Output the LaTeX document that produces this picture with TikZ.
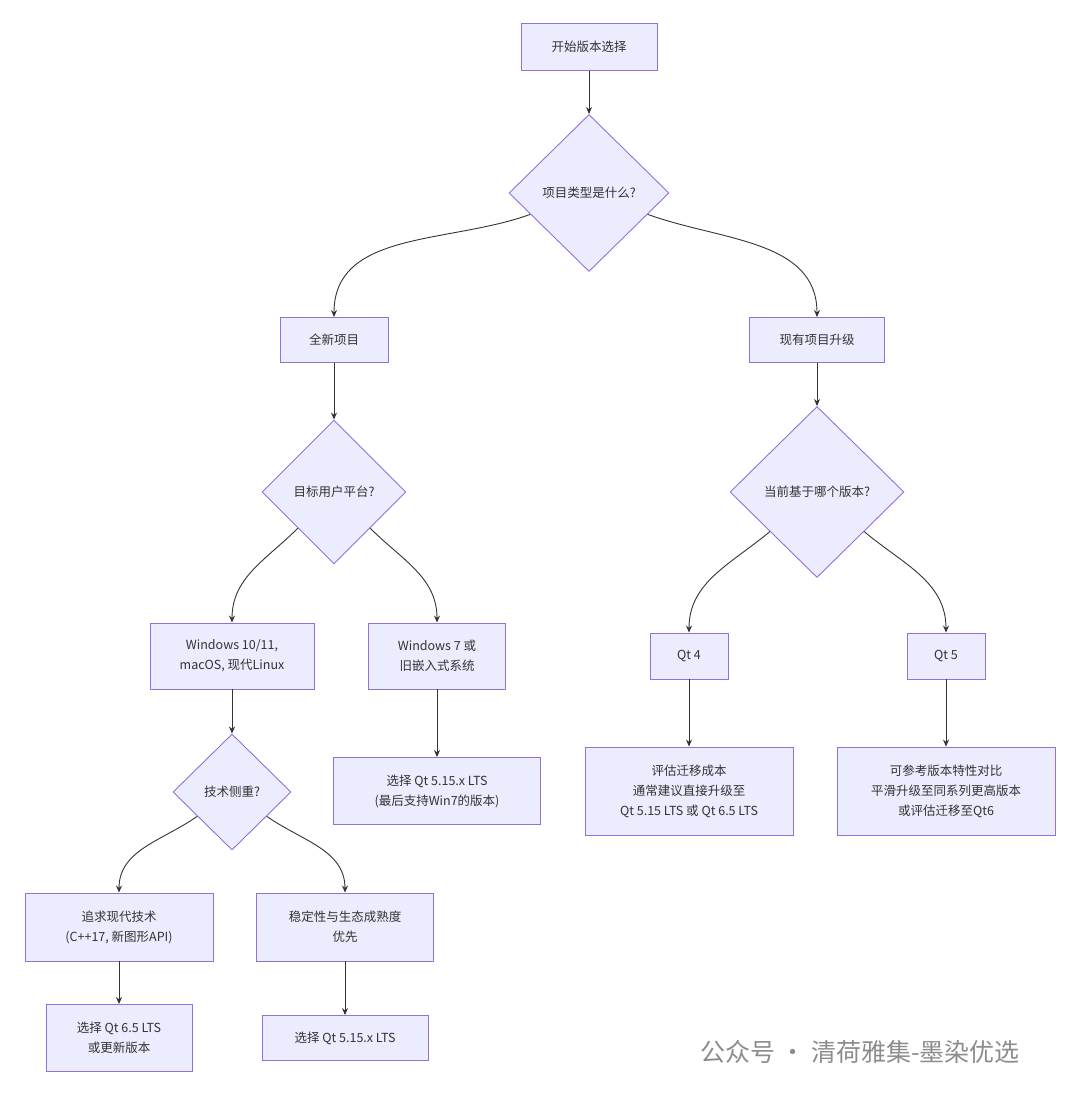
\documentclass[tikz,border=0pt]{standalone}
\usepackage{fontspec}
\setmainfont{Noto Sans CJK SC}
\usetikzlibrary{shapes.geometric,arrows.meta}
\definecolor{boxfill}{HTML}{ECECFF}
\definecolor{boxline}{HTML}{9370DB}
\definecolor{arrline}{HTML}{333333}
\tikzset{
  box/.style={draw=boxline, fill=boxfill, line width=0.9pt, align=center, inner sep=0pt},
  choice/.style={draw=boxline, fill=boxfill, line width=0.9pt, diamond, align=center, inner sep=0pt},
  arr/.style={draw=arrline, line width=0.9pt, -{Stealth[length=7pt,width=6pt]}}
}
\begin{document}
\begin{tikzpicture}[x=1pt, y=-1pt, font=\fontsize{12.5}{20}\selectfont, text=arrline]
\useasboundingbox (0,0) rectangle (1080,1097);

%Top
\node[box, minimum width=136, minimum height=47] (start) at (589,47) {开始版本选择};
\node[choice, minimum width=160, minimum height=157] (kind) at (589,193) {项目类型是什么?};

%New project branch
\node[box, minimum width=108, minimum height=45] (new) at (334,340) {全新项目};
\node[choice, minimum width=144, minimum height=144] (plat) at (334,492) {目标用户平台?};
\node[box, minimum width=164, minimum height=66] (modernos) at (232,656) {Windows 10/11,\\macOS, 现代Linux};
\node[box, minimum width=137, minimum height=66] (oldos) at (437,656) {Windows 7 或\\旧嵌入式系统};
\node[choice, minimum width=118, minimum height=116] (focus) at (232,792) {技术侧重?};
\node[box, minimum width=207, minimum height=67] (pickwin7) at (437,791) {选择 Qt 5.15.x LTS\\(最后支持Win7的版本)};
\node[box, minimum width=188, minimum height=68] (modern) at (119,927) {追求现代技术\\(C++17, 新图形API)};
\node[box, minimum width=177, minimum height=68] (stable) at (345,927) {稳定性与生态成熟度\\优先};
\node[box, minimum width=146, minimum height=67] (pick65) at (119,1038) {选择 Qt 6.5 LTS\\或更新版本};
\node[box, minimum width=166, minimum height=45] (pick515) at (345,1038) {选择 Qt 5.15.x LTS};

%Upgrade branch
\node[box, minimum width=135, minimum height=45] (upg) at (817,340) {现有项目升级};
\node[choice, minimum width=174, minimum height=171] (base) at (817,492) {当前基于哪个版本?};
\node[box, minimum width=78, minimum height=46] (qtfour) at (689,656) {Qt 4};
\node[box, minimum width=78, minimum height=46] (qtfive) at (946,656) {Qt 5};
\node[box, minimum width=208, minimum height=88] (evalcost) at (689,791) {评估迁移成本\\通常建议直接升级至\\Qt 5.15 LTS 或 Qt 6.5 LTS};
\node[box, minimum width=218, minimum height=88] (refer) at (946,791) {可参考版本特性对比\\平滑升级至同系列更高版本\\或评估迁移至Qt6};

%Edges
\draw[arr] (start) -- (kind);
\draw[arr] (kind) to[out=200, in=90] (new);
\draw[arr] (kind) to[out=-20, in=90] (upg);
\draw[arr] (new) -- (plat);
\draw[arr] (plat) to[out=225, in=90] (modernos);
\draw[arr] (plat) to[out=-45, in=90] (oldos);
\draw[arr] (modernos) -- (focus);
\draw[arr] (oldos) -- (pickwin7);
\draw[arr] (focus) to[out=215, in=90] (modern);
\draw[arr] (focus) to[out=-35, in=90] (stable);
\draw[arr] (modern) -- (pick65);
\draw[arr] (stable) -- (pick515);
\draw[arr] (upg) -- (base);
\draw[arr] (base) to[out=220, in=90] (qtfour);
\draw[arr] (base) to[out=-40, in=90] (qtfive);
\draw[arr] (qtfour) -- (evalcost);
\draw[arr] (qtfive) -- (refer);

%Watermark
\node[text=black!45, font=\fontsize{25}{30}\selectfont] (mark) at (860,1052) {公众号 · 清荷雅集-墨染优选};
\end{tikzpicture}
\end{document}
